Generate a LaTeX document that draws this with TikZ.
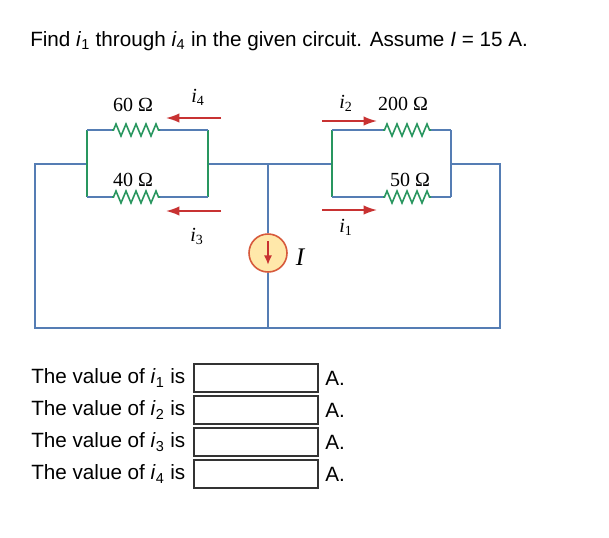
\documentclass[tikz,border=0pt]{standalone}
\usepackage{fontspec}
\setmainfont{Liberation Sans}
\newfontfamily\serifx{Liberation Serif}
\usetikzlibrary{arrows.meta}
\definecolor{wire}{RGB}{85,125,180}
\definecolor{grn}{RGB}{40,150,95}
\definecolor{arr}{RGB}{200,50,50}
\definecolor{srcf}{RGB}{255,232,170}
\definecolor{srcb}{RGB}{215,90,60}
\begin{document}
\begin{tikzpicture}[x=0.75pt,y=-0.75pt,
  w/.style={draw=wire,line width=1.2pt},
  g/.style={draw=grn,line width=1.2pt},
  cur/.style={draw=arr,line width=1.2pt,-{Latex[length=10pt,width=7pt]}},
  lab/.style={font=\serifx\fontsize{15}{17}\selectfont,inner sep=0pt},
  il/.style={font=\serifx\itshape\fontsize{15}{17}\selectfont,inner sep=0pt},
  txt/.style={font=\fontsize{15.5}{18}\selectfont,anchor=west,inner sep=0pt},
  box/.style={draw=black!80,line width=1.5pt}]
\useasboundingbox (0,0) rectangle (609,537);
\fill[white] (0,0) rectangle (609,537);
\def\res#1#2{\draw[g] (#1,#2) -- ++(1.5,0) -- ++(2.5,-6) -- ++(5,12) -- ++(5,-12) -- ++(5,12) -- ++(5,-12) -- ++(5,12) -- ++(5,-12) -- ++(5,12) -- ++(5,-12) -- ++(2.5,6) -- ++(1.5,0);}
% coordinates
\coordinate (TL) at (35,164); \coordinate (BL) at (35,328);
\coordinate (TR) at (500,164); \coordinate (BR) at (500,328);
\coordinate (LA) at (87,164); \coordinate (LB) at (208,164);
\coordinate (RA) at (332,164); \coordinate (RB) at (451,164);
\coordinate (M) at (268,164); \coordinate (MB) at (268,328);
% main wires
\draw[w] (LA) -- (TL) -- (BL) -- (BR) -- (TR) -- (RB);
\draw[w] (LB) -- (RA);
\node[circle,draw=srcb,fill=srcf,line width=1.2pt,minimum size=28.5pt] (src) at (268,253) {};
\draw[w] (M) -- (src.north);
\draw[w] (src.south) -- (MB);
\draw[draw=arr,line width=1.2pt,-{Latex[length=7pt,width=6pt]}] ([yshift=-6]src.north) -- ([yshift=6]src.south);
\node[il,font=\serifx\itshape\fontsize{19}{21}\selectfont] (I) at (300,257) {I};
% left box
\draw[g] (87,130) -- (87,197); \draw[g] (208,130) -- (208,197);
\draw[w] (87,130) -- (112,130); \draw[w] (158,130) -- (208,130);
\draw[w] (87,197) -- (112,197); \draw[w] (158,197) -- (208,197);
\res{112}{130} \res{112}{197}
% right box
\draw[g] (332,130) -- (332,197); \draw[w] (451,130) -- (451,197);
\draw[w] (332,130) -- (383,130); \draw[w] (429,130) -- (451,130);
\draw[w] (332,197) -- (383,197); \draw[w] (429,197) -- (451,197);
\res{383}{130} \res{383}{197}
% labels
\node[lab] (r60) at (133,105) {60 Ω};
\node[lab] (r40) at (133,180) {40 Ω};
\node[lab] (r200) at (403,104) {200 Ω};
\node[lab] (r50) at (410,180) {50 Ω};
\node[il] (i4) at (198,97) {i\textsubscript{\upshape 4}};
\node[il] (i3) at (197,236) {i\textsubscript{\upshape 3}};
\node[il] (i2) at (346,103) {i\textsubscript{\upshape 2}};
\node[il] (i1) at (346,227) {i\textsubscript{\upshape 1}};
\coordinate (a4s) at (221,118); \coordinate (a4e) at (166,118);
\coordinate (a3s) at (221,211); \coordinate (a3e) at (166,211);
\coordinate (a2s) at (322,121); \coordinate (a2e) at (377,121);
\coordinate (a1s) at (322,210); \coordinate (a1e) at (377,210);
\draw[cur] (a4s) -- (a4e); \draw[cur] (a3s) -- (a3e);
\draw[cur] (a2s) -- (a2e); \draw[cur] (a1s) -- (a1e);
% text
\node[txt] (title) at (30,41) {Find \textit{i}\textsubscript{1} through \textit{i}\textsubscript{4} in the given circuit. Assume \textit{I} = 15 A.};
\foreach \k in {1,2,3,4}{
  \pgfmathsetmacro\yy{378+32*(\k-1)}
  \node[txt] (q\k) at (31,\yy) {The value of \textit{i}\textsubscript{\k} is};
  \draw[box] (194,\yy-14) rectangle (318,\yy+14);
  \node[txt] (u\k) at (325,\yy) {A.};
}
\end{tikzpicture}
\end{document}
